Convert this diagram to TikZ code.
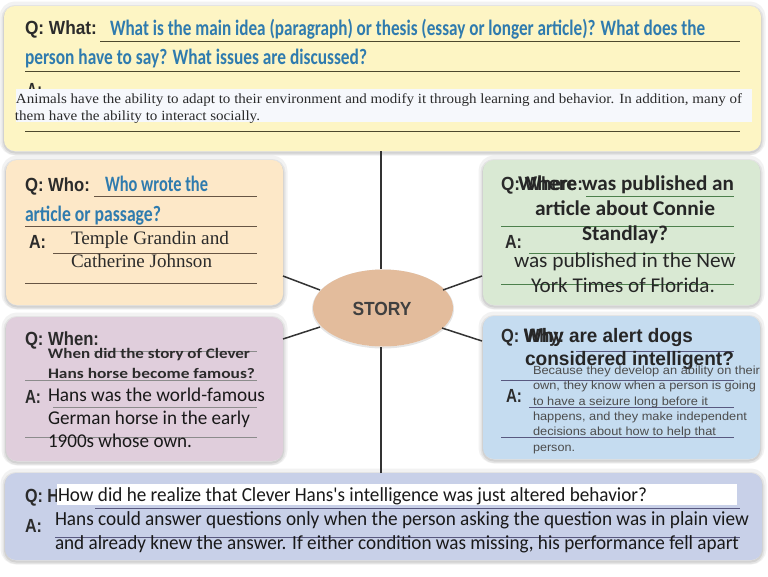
\documentclass[tikz,border=0pt]{standalone}
\usepackage{fontspec}
\usepackage{graphicx}
\usetikzlibrary{shapes.geometric}
\setmainfont{Liberation Sans}
\newfontfamily\calfam{Carlito}
\newfontfamily\serfam{Liberation Serif}
\newfontfamily\sanfam{Liberation Sans}
\definecolor{hand}{HTML}{2F7BAE}
\definecolor{ink}{HTML}{2B2B2B}
\newcommand\fit[2]{\resizebox{#1pt}{\height}{#2}}
\tikzset{
  x=1pt,y=-1pt,
  panel/.style={rounded corners=11pt,inner sep=0pt,outer sep=0pt,
    preaction={draw=black,draw opacity=.05,line width=9pt},
    preaction={draw=black,draw opacity=.06,line width=5pt,transform canvas={yshift=-1.5pt}},
    preaction={draw=black,draw opacity=.08,line width=2pt,transform canvas={yshift=-1.5pt}}},
  lbl/.style={anchor=base west,inner sep=0pt,outer sep=0pt,text=ink},
  qlab/.style={lbl,font=\sanfam\bfseries\fontsize{19}{19}\selectfont},
  handw/.style={lbl,text=hand,font=\calfam\bfseries\fontsize{22}{22}\selectfont},
  serift/.style={lbl,font=\serfam\fontsize{14}{14}\selectfont},
  serifb/.style={lbl,font=\serfam\fontsize{19}{19}\selectfont},
  calb/.style={lbl,text=black!85,font=\calfam\bfseries\fontsize{21}{21}\selectfont},
  calr/.style={lbl,text=black!85,font=\calfam\fontsize{21}{21}\selectfont},
  whenq/.style={lbl,font=\calfam\bfseries\fontsize{14.5}{14.5}\selectfont},
  whena/.style={lbl,text=black!90,font=\calfam\fontsize{19.5}{19.5}\selectfont},
  whyq/.style={lbl,text=black!85,font=\sanfam\bfseries\fontsize{19.5}{19.5}\selectfont},
  whya/.style={lbl,text=black!70,font=\sanfam\fontsize{11.8}{11.8}\selectfont},
  howt/.style={lbl,text=black!90,font=\calfam\fontsize{20}{20}\selectfont},
  rulel/.style={draw=#1,line width=.9pt},
  link/.style={draw=black!80,line width=1.5pt},
}
\begin{document}
\begin{tikzpicture}
\useasboundingbox (0,0) rectangle (768,576);
% panels
\node[panel,fill={rgb,255:red,253;green,245;blue,196},minimum width=757pt,minimum height=145pt] (what) at (382.5,78.5) {};
\node[panel,fill={rgb,255:red,253;green,232;blue,200},minimum width=277pt,minimum height=145pt] (who) at (144.5,232.5) {};
\node[panel,fill={rgb,255:red,224;green,206;blue,220},minimum width=277pt,minimum height=144pt] (when) at (144.5,389) {};
\node[panel,fill={rgb,255:red,217;green,233;blue,211},minimum width=277pt,minimum height=145pt] (where) at (621.5,232.5) {};
\node[panel,fill={rgb,255:red,197;green,220;blue,240},minimum width=277pt,minimum height=143pt] (why) at (621.5,387.5) {};
\node[panel,fill={rgb,255:red,200;green,208;blue,232},minimum width=757pt,minimum height=87pt] (how) at (383.5,516.5) {};
\node[ellipse,draw=none,fill={rgb,255:red,227;green,188;blue,156},minimum width=140pt,minimum height=77pt,inner sep=0pt,
  preaction={draw=black,draw opacity=.1,line width=2pt,transform canvas={yshift=-1pt}}] (story) at (383,308) {};
\node[lbl,anchor=base,font=\sanfam\bfseries\fontsize{19}{19}\selectfont,text=black!75] (storyt) at (382,315) {\fit{59}{STORY}};
% connectors
\coordinate (c1) at (381,151);
\coordinate (c2) at (381,473);
\coordinate (c3) at (283,276);
\coordinate (c4) at (283,339);
\coordinate (c5) at (482,276);
\coordinate (c6) at (482,341);
\coordinate (e3) at (320,290);
\coordinate (e4) at (320,327);
\coordinate (e5) at (443,290);
\coordinate (e6) at (442,328);
\draw[link] (c1) -- (c1 |- story.north);
\draw[link] (c2) -- (c2 |- story.south);
\draw[link] (c3) -- (e3);
\draw[link] (c4) -- (e4);
\draw[link] (c5) -- (e5);
\draw[link] (c6) -- (e6);
% rules
\draw[rulel={black!60!olive}] (100,41) -- (740,41);
\draw[rulel={black!60!olive}] (25,71) -- (740,71);
\draw[rulel={black!60!olive}] (25,131) -- (740,131);
\foreach \y/\a in {196/94,226/25,253/53,283/25}{\draw[rulel={black!55!brown!60!gray}] (\a,\y) -- (257,\y);}
\foreach \y/\a in {351/94,380/25,407/53,437/25}{\draw[rulel={black!45}] (\a,\y) -- (257,\y);}
\foreach \y/\a in {196/586,226/501,253/529,284/501}{\draw[rulel={black!50!green!40!gray}] (\a,\y) -- (734,\y);}
\foreach \y/\a in {351/576,380/501,407/529,437/501}{\draw[rulel={black!50!blue!30!gray}] (\a,\y) -- (734,\y);}
\draw[rulel={black!50!blue!30!gray}] (95,508) -- (740,508);
\draw[rulel={black!50!blue!30!gray}] (55,537) -- (740,537);
% what
\node[qlab] (qwhat) at (25,34) {\fit{72}{Q: What:}};
\node[handw] (w1) at (110,35) {\fit{595}{What is the main idea (paragraph) or thesis (essay or longer article)? What does the}};
\node[handw] (w2) at (25,64) {\fit{342}{person have to say? What issues are discussed?}};
\node[qlab] (awhat) at (27,96) {\fit{15}{A:}};
\node[fill={rgb,255:red,246;green,248;blue,252},minimum width=736pt,minimum height=33pt,inner sep=0pt] (band1) at (384,105.5) {};
\node[serift] (w3) at (16,103) {\fit{726}{Animals have the ability to adapt to their environment and modify it through learning and behavior. In addition, many of}};
\node[serift] (w4) at (15,120) {\fit{245}{them have the ability to interact socially.}};
% who
\node[qlab] (qwho) at (25,191) {\fit{65}{Q: Who:}};
\node[handw] (o1) at (105,191) {\fit{103}{Who wrote the}};
\node[handw] (o2) at (25,221) {\fit{136}{article or passage?}};
\node[qlab] (awho) at (29,248) {\fit{17}{A:}};
\node[serifb] (o3) at (71,244) {\fit{158}{Temple Grandin and}};
\node[serifb] (o4) at (71,267) {\fit{141}{Catherine Johnson}};
% when
\node[qlab] (qwhen) at (25,345) {\fit{74}{Q: When:}};
\node[whenq] (n1) at (48,358) {\fit{202}{When did the story of Clever}};
\node[whenq] (n2) at (48,378) {\fit{207}{Hans horse become famous?}};
\node[qlab] (awhen) at (25,403) {\fit{16}{A:}};
\node[whena] (n3) at (48,401) {\fit{217}{Hans was the world-famous}};
\node[whena] (n4) at (48,424) {\fit{202}{German horse in the early}};
\node[whena] (n5) at (48,447) {\fit{144}{1900s whose own.}};
% where
\node[qlab] (qwhere) at (501,190) {\fit{82}{Q: Where:}};
\node[calb] (h1) at (518,190) {\fit{216}{Where was published an}};
\node[calb] (h2) at (535,215) {\fit{180}{article about Connie}};
\node[calb] (h3) at (582,240) {\fit{86}{Standlay?}};
\node[qlab] (awhere) at (505,248) {\fit{17}{A:}};
\node[calr] (h4) at (514,267) {\fit{222}{was published in the New}};
\node[calr] (h5) at (531,292) {\fit{184}{York Times of Florida.}};
% why
\node[qlab] (qwhy) at (501,342) {\fit{63}{Q: Why:}};
\node[whyq] (y1) at (524,342) {\fit{169}{Why are alert dogs}};
\node[whyq] (y2) at (525,365) {\fit{209}{considered intelligent?}};
\node[whya] (y3) at (533,374) {\fit{227}{Because they develop an ability on their}};
\node[whya] (y4) at (533,389) {\fit{223}{own, they know when a person is going}};
\node[whya] (y5) at (533,405) {\fit{175}{to have a seizure long before it}};
\node[whya] (y6) at (533,420) {\fit{214}{happens, and they make independent}};
\node[whya] (y7) at (533,435) {\fit{183}{decisions about how to help that}};
\node[whya] (y8) at (533,451) {\fit{42}{person.}};
\node[qlab] (awhy) at (506,402) {\fit{16}{A:}};
% how
\node[qlab] (qhow) at (25,502) {\fit{34}{Q: H}};
\node[fill=white,minimum width=680pt,minimum height=21pt,inner sep=0pt] (band2) at (397,494) {};
\node[howt] (a1) at (58,501) {\fit{589}{How did he realize that Clever Hans's intelligence was just altered behavior?}};
\node[qlab] (ahow) at (25,532) {\fit{17}{A:}};
\node[howt] (a2) at (55,525) {\fit{694}{Hans could answer questions only when the person asking the question was in plain view}};
\node[howt] (a3) at (55,549) {\fit{684}{and already knew the answer. If either condition was missing, his performance fell apart}};
\end{tikzpicture}
\end{document}
